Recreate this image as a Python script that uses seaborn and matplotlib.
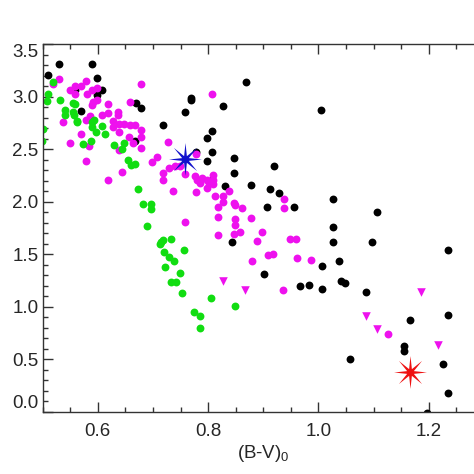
import numpy as np
import pandas as pd
import matplotlib
matplotlib.use("Agg")
import matplotlib.pyplot as plt
from matplotlib.path import Path
from matplotlib.ticker import MultipleLocator
import seaborn as sns

# (B-V)_0 and y values
black_bv = [0.509, 0.529, 0.589, 0.598, 0.608, 0.599, 0.559, 0.569, 0.669, 0.679,
            0.718, 0.768, 0.768, 0.758, 0.827, 0.807, 0.798, 0.807, 0.778, 0.798,
            0.847, 0.847, 0.831, 0.668, 0.807, 0.868, 1.005, 0.920, 0.878, 0.913,
            0.928, 1.027, 0.907, 0.956, 1.107, 1.027, 1.027, 0.844, 1.097, 1.235,
            1.007, 1.037, 0.902, 0.967, 0.983, 1.007, 1.040, 1.048, 1.086, 1.166,
            1.235, 1.156, 1.156, 1.057, 1.226, 1.235, 1.196]
black_y = [3.207, 3.311, 3.314, 3.179, 3.061, 3.011, 3.065, 2.861, 2.937, 2.890,
           2.726, 2.985, 2.963, 2.849, 2.906, 2.675, 2.605, 2.472, 2.469, 2.384,
           2.415, 2.276, 2.153, 2.580, 2.210, 3.141, 2.868, 2.339, 2.162, 2.118,
           2.085, 2.025, 1.945, 1.945, 1.906, 1.760, 1.614, 1.619, 1.614, 1.545,
           1.389, 1.434, 1.309, 1.197, 1.206, 1.166, 1.244, 1.228, 1.146, 0.874,
           0.924, 0.627, 0.582, 0.500, 0.453, 0.178, -0.005]

magenta_bv = [0.519, 0.530, 0.559, 0.569, 0.549, 0.559, 0.579, 0.589, 0.598, 0.580,
              0.591, 0.590, 0.599, 0.618, 0.608, 0.618, 0.637, 0.637, 0.658, 0.678,
              0.536, 0.570, 0.578, 0.586, 0.627, 0.628, 0.638, 0.648, 0.658, 0.668,
              0.678, 0.678, 0.678, 0.638, 0.657, 0.549, 0.584, 0.638, 0.579, 0.707,
              0.699, 0.664, 0.619, 0.644, 0.728, 0.718, 0.719, 0.729, 0.739, 0.749,
              0.758, 0.737, 0.778, 0.777, 0.779, 0.788, 0.786, 0.797, 0.802, 0.797,
              0.808, 0.808, 0.808, 0.778, 0.807, 0.812, 0.827, 0.827, 0.838, 0.847,
              0.849, 0.818, 0.862, 0.758, 0.817, 0.818, 0.848, 0.848, 0.847, 0.857,
              0.937, 0.937, 0.878, 0.898, 0.888, 0.948, 0.959, 0.908, 0.918, 0.961,
              0.987, 0.880, 0.935, 1.127]
magenta_y = [3.122, 3.169, 3.096, 3.096, 3.058, 3.020, 3.146, 3.058, 3.084, 3.027,
             2.951, 2.918, 2.963, 2.925, 2.821, 2.847, 2.856, 2.821, 2.949, 3.118,
             2.757, 2.640, 2.773, 2.811, 2.764, 2.707, 2.742, 2.742, 2.726, 2.733,
             2.685, 2.615, 2.514, 2.661, 2.612, 2.558, 2.528, 2.493, 2.390, 2.427,
             2.374, 2.558, 2.203, 2.282, 2.567, 2.270, 2.210, 2.320, 2.336, 2.336,
             2.267, 2.099, 2.457, 2.241, 2.203, 2.229, 2.178, 2.210, 2.178, 2.134,
             2.258, 2.165, 2.208, 2.089, 3.020, 2.051, 2.051, 1.997, 2.099, 1.992,
             1.966, 1.950, 1.937, 1.807, 1.679, 1.857, 1.840, 1.781, 1.690, 1.708,
             2.030, 1.940, 1.846, 1.708, 1.629, 1.650, 1.650, 1.489, 1.498, 1.460,
             1.450, 1.439, 1.161, 0.741]

green_bv = [0.519, 0.510, 0.507, 0.531, 0.540, 0.541, 0.555, 0.559, 0.555, 0.557,
            0.562, 0.562, 0.593, 0.589, 0.590, 0.596, 0.608, 0.613, 0.573, 0.588,
            0.630, 0.644, 0.647, 0.654, 0.660, 0.668, 0.672, 0.682, 0.696, 0.696,
            0.689, 0.715, 0.719, 0.713, 0.733, 0.757, 0.720, 0.729, 0.738, 0.722,
            0.749, 0.732, 0.741, 0.753, 0.805, 0.775, 0.785, 0.785, 0.848, 0.500,
            0.498]
green_y = [3.143, 3.027, 2.960, 2.968, 2.868, 2.823, 2.939, 2.925, 2.849, 2.821,
           2.770, 2.759, 2.773, 2.754, 2.709, 2.667, 2.716, 2.640, 2.550, 2.581,
           2.536, 2.498, 2.555, 2.396, 2.346, 2.358, 2.118, 1.978, 1.975, 1.931,
           1.771, 1.617, 1.633, 1.602, 1.648, 1.538, 1.520, 1.477, 1.436, 1.379,
           1.323, 1.239, 1.239, 1.128, 1.080, 0.950, 0.909, 0.800, 1.010, 2.688,
           2.574]

tri_bv = [0.827, 0.867, 1.086, 1.107, 1.186, 1.216]
tri_y = [1.244, 1.156, 0.915, 0.788, 1.146, 0.633]

blue_star = (0.758, 2.403)
red_star = (1.166, 0.377)

sns.set_style("ticks")
plt.rcParams["font.family"] = ["Liberation Sans", "DejaVu Sans"]
plt.rcParams["mathtext.fontset"] = "custom"
plt.rcParams["mathtext.rm"] = "Liberation Sans"
plt.rcParams["mathtext.default"] = "regular"

fig = plt.figure(figsize=(4.74, 4.74), dpi=100)
ax = fig.add_axes([0.0901, 0.1308, 0.9308, 0.7764])

dot = dict(s=32, linewidth=0, legend=False, ax=ax)
sns.scatterplot(x=black_bv, y=black_y, color="black", **dot)
sns.scatterplot(x=magenta_bv, y=magenta_y, color="#ee11ee", **dot)
sns.scatterplot(x=green_bv, y=green_y, color="#11dd11", **dot)
sns.scatterplot(x=tri_bv, y=tri_y, color="#ee11ee", marker="v", s=38,
                linewidth=0, legend=False, ax=ax)

star = Path.unit_regular_star(8, 0.22)
sns.scatterplot(x=[blue_star[0]], y=[blue_star[1]], color="#1111cc", marker=star,
                s=560, linewidth=0, legend=False, ax=ax)
sns.scatterplot(x=[red_star[0]], y=[red_star[1]], color="#ee1111", marker=star,
                s=560, linewidth=0, legend=False, ax=ax)

ax.set_xlim(0.5, 1.3)
ax.set_ylim(0.0, 3.5)
ax.xaxis.set_major_locator(MultipleLocator(0.2))
ax.xaxis.set_minor_locator(MultipleLocator(0.05))
ax.yaxis.set_major_locator(MultipleLocator(0.5))
ax.yaxis.set_minor_locator(MultipleLocator(0.1))
ax.tick_params(which="both", direction="in", top=True, right=True,
               color="#333333", width=1.0)
ax.tick_params(which="major", length=7, labelsize=13.5, pad=8)
ax.tick_params(which="minor", length=3.5)
for sp in ax.spines.values():
    sp.set_linewidth(1.0)
    sp.set_color("#333333")

ax.set_xticks([0.6, 0.8, 1.0, 1.2])
ax.set_xticklabels(["0.6", "0.8", "1.0", "1.2"])
ax.set_yticks([0.0, 0.5, 1.0, 1.5, 2.0, 2.5, 3.0, 3.5])
ax.set_yticklabels(["0.0", "0.5", "1.0", "1.5", "2.0", "2.5", "3.0", "3.5"])
labs = ax.get_yticklabels()
labs[0].set_va("bottom")
labs[-1].set_va("top")
ax.tick_params(axis="y", pad=3)

ax.set_xlabel("(B-V)$_0$", fontsize=13.5, labelpad=2)

fig.savefig("out.png", dpi=100)
